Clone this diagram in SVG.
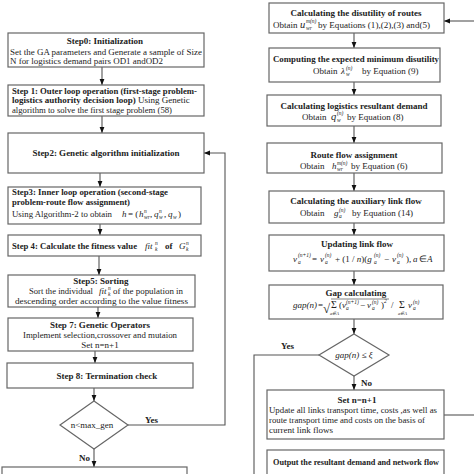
<svg xmlns="http://www.w3.org/2000/svg" width="474" height="474" viewBox="0 0 474 474">
<style>
.box{fill:#fff;stroke:#666;stroke-width:1.2}
.ln{fill:none;stroke:#555;stroke-width:1.1}
text{font-family:"Liberation Serif","Times New Roman",serif;font-size:9px;fill:#222}
.b{font-weight:bold}
.i{font-style:italic}
.m{text-anchor:middle}
.f{font-size:10.5px;font-style:italic}
.s{font-size:5.5px;font-style:italic}
</style>
<defs>
<marker id="ah" viewBox="0 0 10 10" refX="10" refY="5" markerWidth="6" markerHeight="6" orient="auto" markerUnits="userSpaceOnUse">
<path d="M0,1 L10,5 L0,9 z" fill="#111"/>
</marker>
</defs>
<rect width="474" height="474" fill="#fff"/>

<g id="connectors">
<line class="ln" x1="102" y1="67" x2="102" y2="85" marker-end="url(#ah)"/>
<line class="ln" x1="102" y1="116" x2="102" y2="133" marker-end="url(#ah)"/>
<line class="ln" x1="100" y1="173" x2="100" y2="187" marker-end="url(#ah)"/>
<line class="ln" x1="100" y1="224" x2="100" y2="235" marker-end="url(#ah)"/>
<line class="ln" x1="99" y1="256" x2="99" y2="275" marker-end="url(#ah)"/>
<line class="ln" x1="98" y1="307" x2="98" y2="318" marker-end="url(#ah)"/>
<line class="ln" x1="95" y1="351" x2="95" y2="363" marker-end="url(#ah)"/>
<line class="ln" x1="94" y1="388" x2="94" y2="401" marker-end="url(#ah)"/>
<line class="ln" x1="94" y1="449" x2="94" y2="467" marker-end="url(#ah)"/>
<polyline class="ln" points="128,425 225,425 225,153 204,153" marker-end="url(#ah)"/>

<line class="ln" x1="474" y1="21" x2="444" y2="21" marker-end="url(#ah)"/>
<line class="ln" x1="354" y1="33" x2="354" y2="48" marker-end="url(#ah)"/>
<line class="ln" x1="354" y1="82" x2="354" y2="95" marker-end="url(#ah)"/>
<line class="ln" x1="354" y1="126" x2="354" y2="143" marker-end="url(#ah)"/>
<line class="ln" x1="354" y1="173" x2="354" y2="191" marker-end="url(#ah)"/>
<line class="ln" x1="354" y1="223" x2="354" y2="235" marker-end="url(#ah)"/>
<line class="ln" x1="354" y1="271" x2="354" y2="285" marker-end="url(#ah)"/>
<line class="ln" x1="354" y1="319" x2="354" y2="334" marker-end="url(#ah)"/>
<line class="ln" x1="354" y1="376" x2="354" y2="390" marker-end="url(#ah)"/>
<polyline class="ln" points="319,355 254,355 254,474"/>
<line class="ln" x1="444" y1="415" x2="474" y2="415"/>

<text class="b" x="145" y="423">Yes</text>
<text class="b" x="79" y="461">No</text>
<text class="b" x="281" y="349">Yes</text>
<text class="b" x="361" y="386">No</text>
</g>

<g id="step0">
<rect class="box" x="8" y="33" width="196" height="34"/>
<text class="b m" x="105" y="44">Step0: Initialization</text>
<text x="10" y="54.5" textLength="192" lengthAdjust="spacingAndGlyphs">Set the GA parameters and Generate a sample of  Size</text>
<text x="10" y="64" textLength="153" lengthAdjust="spacingAndGlyphs">N for logistics demand pairs OD1 andOD2</text>
</g>

<g id="step1">
<rect class="box" x="8" y="85" width="196" height="31"/>
<text class="b" x="12" y="93.5" textLength="185" lengthAdjust="spacingAndGlyphs">Step 1: Outer loop operation (first-stage problem-</text>
<text x="12" y="103"><tspan class="b">logistics authority decision loop)</tspan> Using Genetic</text>
<text x="12" y="112.5" textLength="160" lengthAdjust="spacingAndGlyphs">algorithm to solve the first stage problem (58)</text>
</g>

<g id="step2">
<rect class="box" x="8" y="133" width="196" height="40"/>
<text class="b m" x="106" y="156">Step2: Genetic algorithm initialization</text>
</g>

<g id="step3">
<rect class="box" x="8" y="187" width="193" height="37"/>
<text class="b" x="12" y="195" textLength="156" lengthAdjust="spacingAndGlyphs">Step3: Inner loop operation (second-stage</text>
<text class="b" x="12" y="204.5" textLength="118" lengthAdjust="spacingAndGlyphs">problem-route flow assignment)</text>
<text x="12" y="217" textLength="100" lengthAdjust="spacingAndGlyphs">Using Algorithm-2 to obtain</text>
<text class="i" x="122" y="217">h</text>
<text x="128" y="217">= (</text>
<text class="i" x="139" y="217">h</text>
<text class="s" x="144" y="213">n</text>
<text class="s" x="144" y="219">wr</text>
<text x="150" y="217">,</text>
<text class="i" x="154" y="217">q</text>
<text class="s" x="159" y="213">n</text>
<text class="s" x="159" y="219">w</text>
<text x="164" y="217">,</text>
<text class="i" x="168" y="217">q</text>
<text class="s" x="173" y="219">w</text>
<text x="178" y="217">)</text>
</g>

<g id="step4">
<rect class="box" x="8" y="235" width="193" height="21"/>
<text class="b" x="12" y="249" textLength="125" lengthAdjust="spacingAndGlyphs">Step 4: Calculate the fitness value</text>
<text class="i" x="145" y="249">fit</text>
<text class="s" x="155" y="245">n</text>
<text class="s" x="155" y="251">k</text>
<text class="b" x="165" y="249">of</text>
<text class="i" x="179" y="249">G</text>
<text class="s" x="186" y="245">n</text>
<text class="s" x="186" y="251">k</text>
</g>

<g id="step5">
<rect class="box" x="8" y="275" width="187" height="32"/>
<text class="b m" x="101" y="284">Step5: Sorting</text>
<text x="29" y="294" textLength="64" lengthAdjust="spacingAndGlyphs">Sort the individual</text>
<text class="i" x="99" y="294">fit</text>
<text class="s" x="108" y="290">n</text>
<text class="s" x="108" y="296">k</text>
<text x="113" y="294" textLength="70" lengthAdjust="spacingAndGlyphs">of the population  in</text>
<text x="15" y="304" textLength="173" lengthAdjust="spacingAndGlyphs">descending order according to the value fitness</text>
</g>

<g id="step7">
<rect class="box" x="8" y="318" width="185" height="33"/>
<text class="b m" x="100" y="328">Step 7: Genetic Operators</text>
<text class="m" x="100" y="338" textLength="154" lengthAdjust="spacingAndGlyphs">Implement selection,crossover and mutaion</text>
<text class="m" x="100" y="348">Set n=n+1</text>
</g>

<g id="step8">
<rect class="box" x="7" y="363" width="186" height="25"/>
<text class="b m" x="107" y="379">Step 8: Termination check</text>
</g>

<g id="check1">
<polygon class="box" points="94,401 128,425 94,449 60,425"/>
<text class="m" x="92" y="428">n&lt;max_gen</text>
</g>

<g id="outputLeft">
<rect class="box" x="2" y="467" width="185" height="20"/>
</g>

<g id="r1">
<rect class="box" x="269" y="3" width="175" height="30"/>
<text class="b m" x="356" y="15.5">Calculating the disutility of routes</text>
<text x="273" y="28">Obtain</text>
<text class="f" x="300" y="28">u</text>
<text class="s" x="306" y="23">m(n)</text>
<text class="s" x="306" y="30">wr</text>
<text x="318" y="28" textLength="112" lengthAdjust="spacingAndGlyphs">by Equations (1),(2),(3) and(5)</text>
</g>

<g id="r2">
<rect class="box" x="269" y="48" width="171" height="34"/>
<text class="b m" x="356" y="62" textLength="166" lengthAdjust="spacingAndGlyphs">Computing the expected minimum disutility</text>
<text x="313" y="74">Obtain</text>
<text class="i" x="341" y="74">λ</text>
<text class="s" x="346" y="70">(n)</text>
<text class="s" x="346" y="76">w</text>
<text x="362" y="74">by Equation (9)</text>
</g>

<g id="r3">
<rect class="box" x="267" y="95" width="174" height="31"/>
<text class="b m" x="354" y="109">Calculating logistics resultant demand</text>
<text x="302" y="120">Obtain</text>
<text class="f" x="331" y="120">q</text>
<text class="s" x="337" y="115">(n)</text>
<text class="s" x="337" y="122">w</text>
<text x="347" y="120">by Equation (8)</text>
</g>

<g id="r4">
<rect class="box" x="267" y="143" width="175" height="30"/>
<text class="b m" x="354" y="158">Route flow assignment</text>
<text x="300" y="169">Obtain</text>
<text class="i" x="332" y="169">h</text>
<text class="s" x="337" y="165">m(n)</text>
<text class="s" x="337" y="171">wr</text>
<text x="351" y="169">by Equation (6)</text>
</g>

<g id="r5">
<rect class="box" x="269" y="191" width="175" height="32"/>
<text class="b m" x="356" y="204">Calculating  the auxiliary link flow</text>
<text x="300" y="216">Obtain</text>
<text class="i" x="334" y="216">g</text>
<text class="s" x="339" y="212">(n)</text>
<text class="s" x="339" y="218">a</text>
<text x="352" y="216">by Equation (14)</text>
</g>

<g id="r6">
<rect class="box" x="269" y="235" width="175" height="36"/>
<text class="b m" x="357" y="247">Updating link flow</text>
<text class="i" x="293" y="262">v</text>
<text class="s" x="298" y="257">(n+1)</text>
<text class="s" x="298" y="264">a</text>
<text x="312" y="262">=</text>
<text class="i" x="320" y="262">v</text>
<text class="s" x="325" y="257">(n)</text>
<text class="s" x="325" y="264">a</text>
<text x="335" y="262">+ (1 / <tspan class="i">n</tspan>)(<tspan class="i">g</tspan></text>
<text class="s" x="374" y="257">(n)</text>
<text class="s" x="374" y="264">a</text>
<text x="384" y="262">−</text>
<text class="i" x="392" y="262">v</text>
<text class="s" x="397" y="257">(n)</text>
<text class="s" x="397" y="264">a</text>
<text x="406" y="262">),</text>
<text class="i" x="413" y="262">a</text>
<text x="419" y="262">∈</text>
<text class="i" x="427" y="262">A</text>
</g>

<g id="r7">
<rect class="box" x="269" y="285" width="174" height="34"/>
<text class="b m" x="356" y="296">Gap calculating</text>
<text class="i" x="293" y="308">gap(n)</text>
<text x="318" y="308">=</text>
<text x="323" y="313" style="font-size:13px">√</text>
<line x1="331" y1="299" x2="389" y2="299" stroke="#333" stroke-width="0.6"/>
<text x="331" y="308" style="font-size:10px">Σ</text>
<text class="s" x="330" y="315" style="font-size:4.5px">a∈A</text>
<text x="339" y="308">(<tspan class="i">v</tspan></text>
<text class="s" x="346" y="304">(n+1)</text>
<text class="s" x="346" y="310">a</text>
<text x="360" y="308">−</text>
<text class="i" x="367" y="308">v</text>
<text class="s" x="372" y="304">(n)</text>
<text class="s" x="372" y="310">a</text>
<text x="381" y="308">)</text>
<text class="s" x="384" y="303">2</text>
<text x="391" y="308">/</text>
<text x="399" y="308" style="font-size:10px">Σ</text>
<text class="s" x="398" y="315" style="font-size:4.5px">a∈A</text>
<text class="i" x="408" y="308">v</text>
<text class="s" x="413" y="304">(n)</text>
<text class="s" x="413" y="310">a</text>
</g>

<g id="check2">
<polygon class="box" points="354,334 389,355 354,376 319,355"/>
<text class="i m" x="354" y="358">gap(n) ≤ ξ</text>
</g>

<g id="r8">
<rect class="box" x="267" y="390" width="177" height="49"/>
<text class="b m" x="357" y="403">Set n=n+1</text>
<text x="269" y="413" textLength="168" lengthAdjust="spacingAndGlyphs">Update  all links transport time, costs ,as well as</text>
<text x="269" y="423" textLength="156" lengthAdjust="spacingAndGlyphs">route transport time and costs on the basis of</text>
<text x="269" y="433">current link flows</text>
</g>

<g id="r9">
<rect class="box" x="267" y="450" width="177" height="30"/>
<text class="b m" x="356" y="465" textLength="166" lengthAdjust="spacingAndGlyphs">Output the resultant demand and network flow</text>
</g>
</svg>
